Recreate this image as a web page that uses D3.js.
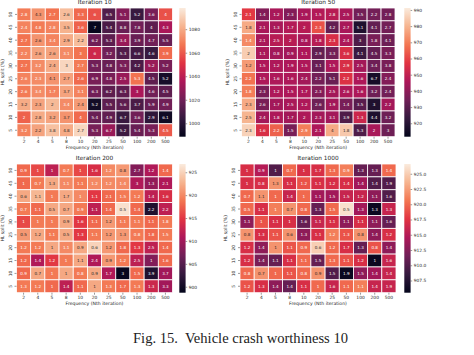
<!DOCTYPE html>
<html><head><meta charset="utf-8">
<script src="https://cdn.jsdelivr.net/npm/d3@7"></script>
<style>body{margin:0;background:#fff} svg{display:block} text{font-family:"DejaVu Sans",sans-serif}</style>
</head><body><svg id="c" width="474" height="355"></svg>
<script>
const rows = ["50","45","40","35","30","25","20","15","10","5"];
const cols = ["2","4","5","8","10","20","25","50","100","200","500"];

// Iteration 10
const annot10 = [
[2.8,4.3,2.7,2.6,3.3,6,6.5,5.1,5.2,3.6,4],
[2.4,4.8,2.8,3.5,3.6,7,5.4,8.8,7.8,4,4.3],
[2.7,2.6,3.4,2.9,2.2,6.2,5.3,3.4,3.9,4.7,5.5],
[2.2,2.6,2.6,3.1,3,6,3.2,5.3,6.6,4.6,3.9],
[2.7,3.2,2.4,3,2.7,5.3,4.8,5.3,4.2,5.2,5.2],
[2.6,2.3,4.1,2.7,2.6,6.9,4.8,2.5,5.3,4.5,5.2],
[2.6,3.4,1.7,3.7,3.1,6.3,6.2,6.3,3,4.6,4.5],
[3.2,2.3,2,3.4,2.4,5.2,5.5,5.6,3.7,5.9,4.9],
[2,2.8,3.2,3.7,4,5.4,4.9,6.7,3.6,2.9,6.1],
[3.2,2.2,3.8,4.8,2.7,5.3,6.7,5.2,5.4,5.3,4.5]];
const vals10 = [
[1068,1074,1066,1085,1064,1058,1012,1025,1005,1022,1058],
[1070,1068,1070,1082,1062,990,1010,1018,1020,1015,1035],
[1066,1074,1070,1080,1085,1020,1015,1030,1018,1020,1018],
[1070,1078,1078,1072,1066,1045,1020,1012,1008,1005,1064],
[1066,1072,1080,1092,1068,1020,1018,1022,1010,1030,1022],
[1070,1072,1074,1078,1064,1022,1022,1030,1066,1015,995],
[1068,1072,1070,1078,1070,1020,1015,1015,1035,1020,1015],
[1080,1078,1084,1072,1076,994,1015,1015,1010,1018,1020],
[1062,1080,1078,1074,1064,1018,1016,1005,1020,1002,993],
[1070,1078,1086,1080,1092,1022,1030,1006,1018,1022,1060]];
const domain10 = [988.6, 1098];
const ticks10 = [1000,1020,1040,1060,1080];

// Iteration 50
const annot50 = [
[2.1,1.4,1.2,2.3,1.9,1.5,2.8,2.5,3.5,2.2,2.8],
[1.8,2.1,1.3,1.7,2,2.3,4.2,2.7,5.1,4.1,2.7],
[1.4,2.1,2.5,2,0.8,1.8,2.3,2.4,3,1.8,4.1],
[2,1.1,0.8,0.9,1.1,2.9,3.3,3.6,4.1,4.5,3.3],
[1.2,1.5,1.2,1.9,1.5,3.1,1.5,2.9,2.5,3.4,3.8],
[2.2,1.5,1.6,1.6,2.4,2.2,5.1,2.2,1.6,6.7,2.4],
[1.8,2.3,1.2,1.5,1.7,2.3,2.5,2.6,1.6,3.2,2.4],
[2.3,2.6,1.7,2.5,1.2,2.6,1.9,1.4,3.5,3,2.2],
[2.5,2.4,1.8,1.7,2,2.3,3.1,3.9,1.3,4.4,3.2],
[2.3,1.6,2.2,1.5,2.9,2.1,4,1.8,5.3,2,3]];
const vals50 = [
[958,938,945,938,945,947,948,945,935,935,935],
[978,945,945,947,948,962,932,945,918,932,935],
[972,945,948,948,945,948,955,946,928,936,934],
[985,945,944,944,946,932,935,955,924,932,936],
[975,946,946,946,946,933,946,955,944,934,936],
[968,946,946,946,944,935,933,956,946,916,938],
[970,936,946,946,946,938,944,946,946,934,935],
[978,936,944,945,946,934,944,936,930,918,944],
[980,944,946,944,946,944,944,928,952,918,934],
[986,955,965,936,970,946,978,984,928,945,934]];
const domain50 = [911.7, 991.2];
const ticks50 = [920,930,940,950,960,970,980,990];

// Iteration 200
const annot200 = [
[0.9,1,1,0.7,1,1.6,1.2,0.8,2.7,1.2,1.4],
[1,0.7,1.3,1.1,1.1,1.2,1.2,1.4,3,1.3,2.1],
[0.6,1.1,1,1.7,1,1.1,2.1,1.5,1.2,1.4,1.6],
[0.7,1.1,0.5,0.7,0.9,1.1,1.4,0.5,1.4,2.2,2.2],
[1,1,1,0.9,1.6,1.1,1.2,1.1,1.1,1.1,1.8],
[0.5,1.2,1.1,0.5,1.3,1.1,1.2,1.3,0.8,1.8,1.5],
[1.2,1.2,1,1.1,0.9,0.6,1.2,1.8,1.3,2.5,1.4],
[1.2,1.4,1.2,1,1.1,2.4,0.9,1.2,2.5,1,1.6],
[0.9,0.7,1,1,0.8,0.9,1.7,3,1.5,3.9,3.7],
[1.3,1.2,1,1.4,1.1,1,1.3,1.7,1.3,1.3,3.3]];
const vals200 = [
[918,916,912,919,916,914,920,921,908,911,918],
[918,919,922,920,919,920,920,920,911,909,911],
[922,923,919,922,920,915,918,919,919,912,914],
[919,918,922,922,919,912,918,926,918,901,912],
[916,919,919,922,915,918,921,919,919,918,919],
[921,922,919,922,915,919,921,921,919,918,919],
[919,919,922,920,922,925,921,918,915,912,918],
[918,911,915,919,922,911,921,919,912,908,918],
[918,922,919,922,919,922,911,899,918,901,910],
[919,919,918,912,918,922,919,918,919,913,910]];
const domain200 = [898.7, 926.8];
const ticks200 = [900,905,910,915,920,925];

// Iteration 1000
const annot1000 = [
[1,0.9,1,0.7,1,1.7,1.3,0.9,1.3,1.3,1.4],
[1,0.8,1.3,1.1,1.2,1.1,1.2,1.4,1.4,1.4,1.9],
[0.7,1.1,1,1.4,1,1.1,1.5,1.5,1.2,1.1,1.6],
[0.5,1.1,1,0.7,0.8,1.3,1.5,0.5,1.3,1.3,1.3],
[1.1,1,1.1,1,1.6,1.1,1.1,1.1,1.1,1.1,1.6],
[0.8,1.3,1.1,0.6,1.3,1.1,1.2,1.3,0.8,1.4,1.2],
[1.2,1.4,1,1.1,0.9,0.6,1.2,1.7,1.3,0.8,1.4],
[1.2,1.4,1.1,1.1,1.1,1.5,1.3,1.1,1.2,1,1.6],
[0.8,0.7,1,1.1,0.8,0.9,1.5,1.9,1.5,1.4,1.4],
[1.2,1.3,1.4,1.4,1.1,1,1.6,1.1,1.1,1.4,1.9]];
const vals1000 = [
[917,915,910,920,917,917,920,921,911,911,920],
[917,917,922,917,919,917,917,917,914,910,910],
[920,922,920,916,920,914,914,916,916,913,910],
[920,917,921,922,920,911,920,926,914,906,916],
[913,919,917,917,911,916,917,913,917,913,911],
[922,917,919,922,913,917,921,919,922,913,917],
[917,913,922,919,920,925,920,917,911,919,913],
[917,912,911,917,920,911,920,919,917,906,916],
[920,922,920,919,920,922,910,906,913,914,916],
[919,917,913,911,917,920,916,920,921,916,916]];
const domain1000 = [905.5, 926.6];
const ticks1000 = [907.5,910,912.5,915,917.5,920,922.5,925];

const titles = ["Iteration 10","Iteration 50","Iteration 200","Iteration 1000"];
const xLabel = "Frequency (Nth iteration)";
const yLabel = "HL split (%)";
const caption = "Fig. 15.  Vehicle crash worthiness 10";

const rocketStops = ["#03051a","#35193e","#701f57","#ad1759","#e13342","#f37651","#f6b48f","#faebdd"];
const rocket = d3.piecewise(d3.interpolateRgb, rocketStops);

function lum(c){
  const o = d3.rgb(c);
  const f = v => { v/=255; return v<=0.03928 ? v/12.92 : Math.pow((v+0.055)/1.055,2.4); };
  return 0.2126*f(o.r)+0.7152*f(o.g)+0.0722*f(o.b);
}

const panels = [
  {title:titles[0], annot:annot10, vals:vals10, domain:domain10, ticks:ticks10, fmt:d3.format("d"), box:{x0:17,x1:172.5,y0:8,y1:136.7,cb:179.3}},
  {title:titles[1], annot:annot50, vals:vals50, domain:domain50, ticks:ticks50, fmt:d3.format("d"), box:{x0:241.5,x1:395,y0:8,y1:136.7,cb:404.3}},
  {title:titles[2], annot:annot200, vals:vals200, domain:domain200, ticks:ticks200, fmt:d3.format("d"), box:{x0:16.5,x1:172.5,y0:164,y1:292.7,cb:179.3}},
  {title:titles[3], annot:annot1000, vals:vals1000, domain:domain1000, ticks:ticks1000, fmt:d3.format(".1f"), box:{x0:240,x1:396,y0:164,y1:292.7,cb:404.3}}
];

const svg = d3.select("#c");
const cbW = 6.3;

panels.forEach((p,pi) => {
  const b = p.box;
  const x = d3.scaleBand().domain(cols).range([b.x0,b.x1]);
  const y = d3.scaleBand().domain(rows).range([b.y0,b.y1]);
  const color = d3.scaleSequential(rocket).domain(p.domain);
  const g = svg.append("g");

  const cells = [];
  rows.forEach((r,i) => cols.forEach((c,j) => cells.push({r, c, v:p.vals[i][j], a:p.annot[i][j]})));

  g.selectAll("rect.cell").data(cells).enter().append("rect")
    .attr("x", d => x(d.c)).attr("y", d => y(d.r))
    .attr("width", x.bandwidth()).attr("height", y.bandwidth())
    .attr("fill", d => color(d.v))
    .attr("stroke", "#fff").attr("stroke-width", 0.8);

  g.selectAll("text.ann").data(cells).enter().append("text")
    .attr("x", d => x(d.c) + x.bandwidth()/2)
    .attr("y", d => y(d.r) + y.bandwidth()/2)
    .attr("dy", "0.36em")
    .attr("text-anchor", "middle")
    .attr("font-size", 4.1)
    .attr("fill", d => lum(color(d.v)) > 0.408 ? "#262626" : "#ffffff")
    .text(d => String(d.a));

  const xa = g.append("g").attr("transform", `translate(0,${b.y1})`)
    .call(d3.axisBottom(x).tickSize(2).tickPadding(1.6));
  xa.select(".domain").remove();
  xa.selectAll("line").attr("stroke","#333").attr("stroke-width",0.5);
  xa.selectAll("text").attr("font-size",4.4).attr("fill","#262626").attr("font-family","DejaVu Sans");

  const ya = g.append("g").attr("transform", `translate(${b.x0},0)`)
    .call(d3.axisLeft(y).tickSize(2).tickPadding(1.6));
  ya.select(".domain").remove();
  ya.selectAll("line").attr("stroke","#333").attr("stroke-width",0.5);
  ya.selectAll("text")
    .attr("font-size",4.4).attr("fill","#262626").attr("font-family","DejaVu Sans")
    .attr("text-anchor","middle").attr("dy",null)
    .attr("x", null)
    .attr("transform","translate(-6.2,0) rotate(-90)")
    .attr("dominant-baseline","central");

  g.append("text").attr("x",(b.x0+b.x1)/2).attr("y",b.y0-3.6)
    .attr("text-anchor","middle").attr("font-size",5.8).attr("fill","#262626").text(p.title);
  g.append("text").attr("x",(b.x0+b.x1)/2).attr("y",b.y1+12.3)
    .attr("text-anchor","middle").attr("font-size",4.6).attr("fill","#262626").text(xLabel);
  g.append("text").attr("transform",`translate(${b.x0-12.6},${(b.y0+b.y1)/2}) rotate(-90)`)
    .attr("text-anchor","middle").attr("font-size",4.6).attr("fill","#262626").text(yLabel);

  const cy = d3.scaleLinear().domain(p.domain).range([b.y1,b.y0]);
  const steps = d3.range(0,101).map(k => p.domain[0] + (p.domain[1]-p.domain[0])*k/100);
  const gradId = "grad"+pi;
  const grad = svg.append("defs").append("linearGradient").attr("id",gradId)
    .attr("x1",0).attr("y1",1).attr("x2",0).attr("y2",0);
  grad.selectAll("stop").data(steps).enter().append("stop")
    .attr("offset",(d,k)=>k/100).attr("stop-color",d=>color(d));
  g.append("rect").attr("x",b.cb).attr("y",b.y0).attr("width",cbW).attr("height",b.y1-b.y0)
    .attr("fill",`url(#${gradId})`);
  const ca = g.append("g").attr("transform",`translate(${b.cb+cbW},0)`)
    .call(d3.axisRight(cy).tickValues(p.ticks).tickFormat(p.fmt).tickSize(1.6).tickPadding(1.6));
  ca.select(".domain").remove();
  ca.selectAll("line").attr("stroke","#333").attr("stroke-width",0.5);
  ca.selectAll("text").attr("font-size",4.4).attr("fill","#262626").attr("font-family","DejaVu Sans");
});

svg.append("text").attr("x",240.5).attr("y",343).attr("text-anchor","middle")
  .attr("font-size",13.6).attr("fill","#222")
  .attr("textLength",215).attr("lengthAdjust","spacingAndGlyphs")
  .style("font-family","'Liberation Serif', serif")
  .style("white-space","pre")
  .text(caption);
</script></body></html>
